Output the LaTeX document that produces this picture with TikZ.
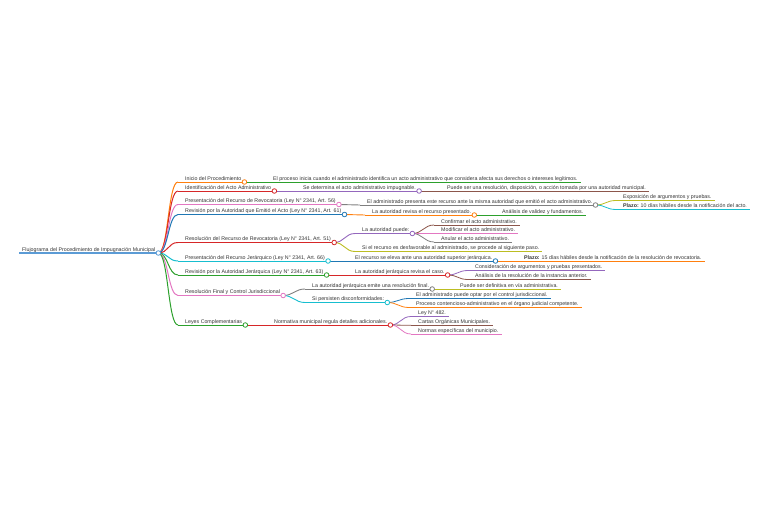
\documentclass[tikz,border=0pt]{standalone}
\usepackage{fontspec}
\setmainfont{Liberation Sans}

% palette of the map
\definecolor{mroot}{HTML}{5B9BD5}
\definecolor{mblue}{HTML}{1F77B4}
\definecolor{morange}{HTML}{FF7F0E}
\definecolor{mgreen}{HTML}{2CA02C}
\definecolor{mred}{HTML}{D62728}
\definecolor{mpurple}{HTML}{9467BD}
\definecolor{mbrown}{HTML}{8C564B}
\definecolor{mpink}{HTML}{E377C2}
\definecolor{mgray}{HTML}{7F7F7F}
\definecolor{molive}{HTML}{BCBD22}
\definecolor{mcyan}{HTML}{17BECF}
\definecolor{mtext}{HTML}{333333}

\tikzset{
  topic/.style={font=\fontsize{5.28}{6}\selectfont, text=mtext, anchor=south west,
    inner xsep=0pt, inner ysep=0.5pt, text height=4pt, text depth=1.3pt},
  l0/.style={line width=1.6pt},
  l1/.style={line width=1pt},
  l2/.style={line width=0.9pt},
  l3/.style={line width=0.8pt},
  knot/.style={fill=white, line width=0.8pt}
}

% topic with its underline: name, colour+width, x, y, text
\newcommand{\mapnode}[5]{%
  \node[topic] (#1) at (#3,#4) {#5};
  \draw[#2] ([xshift=-7pt]#1.south west) coordinate (#1-in) -- ([xshift=3pt]#1.south east) coordinate (#1-out);
}

\begin{document}
\begin{tikzpicture}[x=1pt, y=-1pt]
    \useasboundingbox (0,0) rectangle (768,511);

    % Root
    \node[topic] (root) at (22,253) {Flujograma del Procedimiento de Impugnación Municipal};
    \draw[mroot, l0] ([xshift=-3pt]root.south west) coordinate (root-in) -- ([xshift=3pt]root.south east) coordinate (root-out);

    % First level
    \mapnode{inicio}{morange,l1}{185}{182}{Inicio del Procedimiento}
    \mapnode{ident}{mred,l1}{185}{191}{Identificación del Acto Administrativo}
    \mapnode{prerev}{mpink,l1}{185}{204.5}{Presentación del Recurso de Revocatoria (Ley N° 2341, Art. 56)}
    \mapnode{revaut}{mblue,l1}{185}{214.5}{Revisión por la Autoridad que Emitió el Acto (Ley N° 2341, Art. 61)}
    \mapnode{resrev}{mred,l1}{185}{242.5}{Resolución del Recurso de Revocatoria (Ley N° 2341, Art. 51)}
    \mapnode{prejer}{mcyan,l1}{185}{261}{Presentación del Recurso Jerárquico (Ley N° 2341, Art. 66)}
    \mapnode{revjer}{mgreen,l1}{185}{275}{Revisión por la Autoridad Jerárquica (Ley N° 2341, Art. 63)}
    \mapnode{resfin}{mpink,l1}{185}{295.5}{Resolución Final y Control Jurisdiccional}
    \mapnode{leyes}{mgreen,l1}{185}{325}{Leyes Complementarias}

    % Second level
    \mapnode{proceso}{mgreen,l2}{273}{182}{El proceso inicia cuando el administrado identifica un acto administrativo que considera afecta sus derechos o intereses legítimos.}
    \mapnode{determina}{mpurple,l2}{303}{191}{Se determina el acto administrativo impugnable.}
    \mapnode{presenta}{mgray,l2}{367}{205}{El administrado presenta este recurso ante la misma autoridad que emitió el acto administrativo.}
    \mapnode{revisa}{morange,l2}{372}{215}{La autoridad revisa el recurso presentado.}
    \mapnode{puede}{mpurple,l2}{362}{233.5}{La autoridad puede:}
    \mapnode{desfav}{molive,l2}{362}{251.5}{Si el recurso es desfavorable al administrado, se procede al siguiente paso.}
    \mapnode{eleva}{mblue,l2}{355}{261}{El recurso se eleva ante una autoridad superior jerárquica.}
    \mapnode{jrevisa}{mred,l2}{355}{275}{La autoridad jerárquica revisa el caso.}
    \mapnode{emite}{mgray,l2}{312}{289}{La autoridad jerárquica emite una resolución final.}
    \mapnode{persisten}{mcyan,l2}{312}{302.5}{Si persisten disconformidades:}
    \mapnode{normativa}{mred,l2}{274}{325}{Normativa municipal regula detalles adicionales.}

    % Third level
    \mapnode{tipo}{mbrown,l3}{447}{191}{Puede ser una resolución, disposición, o acción tomada por una autoridad municipal.}
    \mapnode{exposicion}{molive,l3}{623}{200.5}{Exposición de argumentos y pruebas.}
    \mapnode{plazodiez}{mcyan,l3}{623}{209.5}{\textbf{Plazo:} 10 días hábiles desde la notificación del acto.}
    \mapnode{validez}{mgreen,l3}{502}{215}{Análisis de validez y fundamentos.}
    \mapnode{confirmar}{mbrown,l3}{441}{225}{Confirmar el acto administrativo.}
    \mapnode{modificar}{mpink,l3}{441}{233.5}{Modificar el acto administrativo.}
    \mapnode{anular}{mgray,l3}{441}{242}{Anular el acto administrativo.}
    \mapnode{plazoquince}{morange,l3}{524}{261}{\textbf{Plazo:} 15 días hábiles desde la notificación de la resolución de revocatoria.}
    \mapnode{consideracion}{mpurple,l3}{475}{270.5}{Consideración de argumentos y pruebas presentados.}
    \mapnode{analisis}{mbrown,l3}{475}{279.5}{Análisis de la resolución de la instancia anterior.}
    \mapnode{definitiva}{molive,l3}{460}{289}{Puede ser definitiva en vía administrativa.}
    \mapnode{optar}{mblue,l3}{416}{298.5}{El administrado puede optar por el control jurisdiccional.}
    \mapnode{contencioso}{morange,l3}{416}{307.5}{Proceso contencioso-administrativo en el órgano judicial competente.}
    \mapnode{ley}{mpurple,l3}{418}{316.5}{Ley N° 482.}
    \mapnode{cartas}{mbrown,l3}{418}{325.3}{Cartas Orgánicas Municipales.}
    \mapnode{normas}{mpink,l3}{418}{334}{Normas específicas del municipio.}

    % Links between topics
    \foreach \a/\b/\c/\w in {root/inicio/morange/l1, root/ident/mred/l1, root/prerev/mpink/l1,
        root/revaut/mblue/l1, root/resrev/mred/l1, root/prejer/mcyan/l1, root/revjer/mgreen/l1,
        root/resfin/mpink/l1, root/leyes/mgreen/l1,
        inicio/proceso/mgreen/l2, ident/determina/mpurple/l2, prerev/presenta/mgray/l2,
        revaut/revisa/morange/l2, resrev/puede/mpurple/l2, resrev/desfav/molive/l2,
        prejer/eleva/mblue/l2, revjer/jrevisa/mred/l2, resfin/emite/mgray/l2,
        resfin/persisten/mcyan/l2, leyes/normativa/mred/l2,
        determina/tipo/mbrown/l3, presenta/exposicion/molive/l3, presenta/plazodiez/mcyan/l3,
        revisa/validez/mgreen/l3, puede/confirmar/mbrown/l3, puede/modificar/mpink/l3,
        puede/anular/mgray/l3, eleva/plazoquince/morange/l3, jrevisa/consideracion/mpurple/l3,
        jrevisa/analisis/mbrown/l3, emite/definitiva/molive/l3, persisten/optar/mblue/l3,
        persisten/contencioso/morange/l3, normativa/ley/mpurple/l3, normativa/cartas/mbrown/l3,
        normativa/normas/mpink/l3}
      \draw[\c, \w] (\a-out) .. controls +(10,0) and +(-10,0) .. (\b-in);

    % Knots on top
    \foreach \n/\c in {root/mroot, inicio/morange, ident/mred, prerev/mpink, revaut/mblue,
        resrev/mred, prejer/mcyan, revjer/mgreen, resfin/mpink, leyes/mgreen,
        determina/mpurple, presenta/mgray, revisa/morange, puede/mpurple, eleva/mblue,
        jrevisa/mred, emite/mgray, persisten/mcyan, normativa/mred}
      \draw[knot, draw=\c] (\n-out) circle (2.3pt);
\end{tikzpicture}
\end{document}
